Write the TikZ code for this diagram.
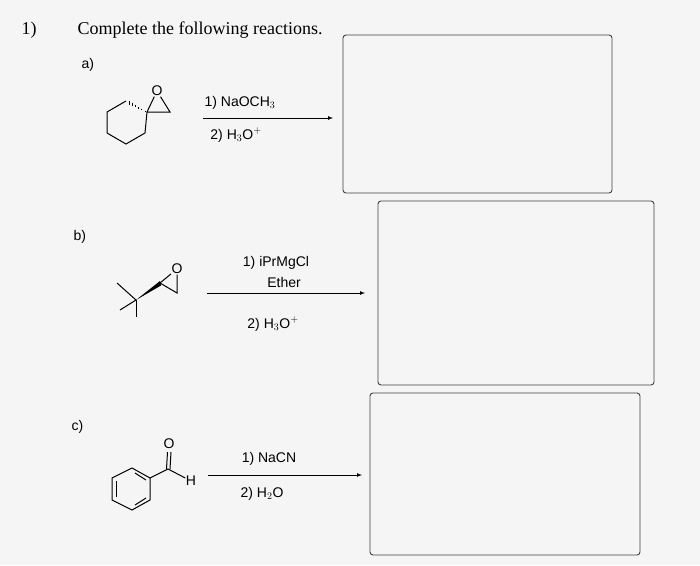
\documentclass[tikz,border=0pt]{standalone}
\usepackage{fontspec}
\usetikzlibrary{calc}
\setsansfont{Liberation Sans}
\setmainfont{Liberation Serif}
\begin{document}
\begin{tikzpicture}[x=1pt,y=-1pt,
 ansbox/.style={draw=black!75,line width=0.9pt,rounded corners=3pt},
 bond/.style={line width=1pt},
 rxn/.style={-latex,line width=0.7pt},
 lab/.style={font=\sffamily\fontsize{14}{16}\selectfont},
 atom/.style={font=\sffamily\fontsize{14}{16}\selectfont,inner sep=0.5pt}]
\useasboundingbox[fill=black!4] (0,0) rectangle (700,565);
\node[anchor=west,font=\fontsize{18}{20}\selectfont] (n1) at (18,30) {1)};
\node[anchor=west,font=\fontsize{18}{20}\selectfont] (title) at (74,30) {Complete the following reactions.};
\node[lab,anchor=west] (la) at (78,65) {a)};
\node[lab,anchor=west] (lb) at (70,237) {b)};
\node[lab,anchor=west] (lc) at (68,427) {c)};
% boxes
\draw[ansbox] (343,35) rectangle (612,193);
\draw[ansbox] (378,201) rectangle (654,385);
\draw[ansbox] (370,393) rectangle (640,555);
% arrows
\coordinate (a1) at (203,118); \coordinate (a2) at (333,118);
\draw[rxn] (a1) -- (a2);
\node[lab] (ra1) at (240,103) {1) NaOCH$_3$};
\node[lab] (ra2) at (236,135) {2) H$_3$O$^{+}$};
\coordinate (b1) at (207,293); \coordinate (b2) at (365,293);
\draw[rxn] (b1) -- (b2);
\node[lab] (rb1) at (276,263) {1) iPrMgCl};
\node[lab] (rb2) at (284,282) {Ether};
\node[lab] (rb3) at (273,324) {2) H$_3$O$^{+}$};
\coordinate (c1) at (208,475); \coordinate (c2) at (362,475);
\draw[rxn] (c1) -- (c2);
\node[lab] (rc1) at (269,459) {1) NaCN};
\node[lab] (rc2) at (262,494) {2) H$_2$O};
% molecule a
\draw[bond] (147,112) -- (145,133) -- (126,144) -- (107,133) -- (107,112) -- (126,101);
\foreach \t in {0.1,0.25,0.4,0.55,0.7,0.85}
  \draw[line width=0.7pt] ($(147,112)!\t!(126,101)+(0,{-2.5*\t})$) -- ($(147,112)!\t!(126,101)+(0,{2.5*\t})$);
\node[atom] (Oa) at (157,91) {O};
\draw[bond] (147,112) -- (Oa) -- (170,112) -- (147,112);
% molecule b
\draw[bond] (117,283) -- (136,300) -- (120,310);
\draw[bond] (136,300) -- (136,317);
\fill (136,300) -- (160,281) -- (161,285.5) -- cycle;
\node[atom] (Ob) at (177,269) {O};
\draw[bond] (160,283) -- (Ob) -- (177,293) -- (160,283);
% molecule c
\draw[bond] (132,468) -- (150,478) -- (150,500) -- (132,510) -- (112,500) -- (112,478) -- cycle;
\draw[bond] (135,473) -- (146,480);
\draw[bond] (146,498) -- (135,505);
\draw[bond] (116,497) -- (116,481);
\draw[bond] (150,478) -- (168,469);
\node[atom] (Oc) at (169,444) {O};
\node[atom] (Hc) at (191,481) {H};
\draw[bond] (166.5,469) -- (167.5,452);
\draw[bond] (170,469) -- (171,452);
\draw[bond] (168,469) -- (Hc);
\end{tikzpicture}
\end{document}
